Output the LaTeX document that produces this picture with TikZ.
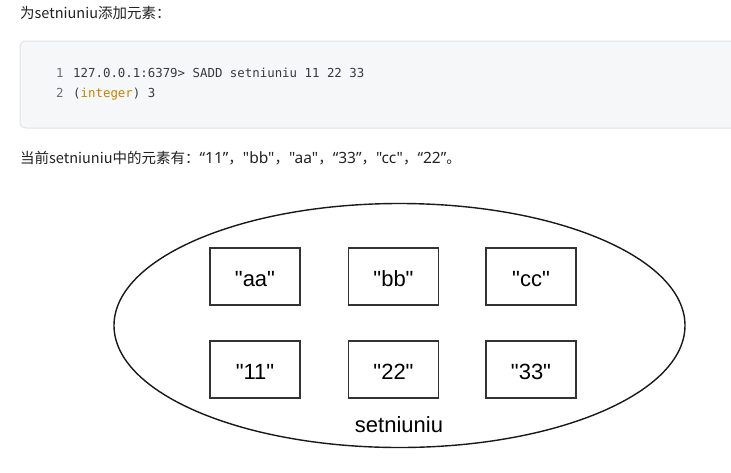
\documentclass[tikz,border=0pt]{standalone}
\usepackage{fontspec}
\setmainfont{Noto Sans CJK SC}[Ligatures=TeXOff]
\newfontfamily\latinfont{Noto Sans}[Ligatures=TeXOff]
\newfontfamily\arialfont{Liberation Sans}[Ligatures=TeXOff]
\newfontfamily\codefont{DejaVu Sans Mono}
\definecolor{codebg}{HTML}{F6F7F9}
\definecolor{codeline}{HTML}{E1E3E6}
\definecolor{codetext}{HTML}{383A42}
\definecolor{codenum}{HTML}{6A6F78}
\definecolor{codekw}{HTML}{C18401}
\definecolor{bodytext}{HTML}{222222}
\newcommand{\quoted}[1]{{\latinfont\fontsize{15.5}{16}\selectfont #1}}

\begin{document}
\begin{tikzpicture}[x=1pt, y=-1pt,
  every node/.style={inner sep=0pt},
  elem/.style={draw=black!80, line width=1.3pt, minimum width=90pt, minimum height=57pt,
    text height=20pt, text depth=0pt, font=\arialfont\fontsize{22}{22}\selectfont},
  para/.style={anchor=base west, text=bodytext, font=\fontsize{14.5}{16}\selectfont},
  codeln/.style={anchor=base west, text=codetext, font=\codefont\fontsize{12.4}{14}\selectfont}]
\useasboundingbox (0,0) rectangle (731,472);
\clip (0,0) rectangle (731,472);
\fill[white] (0,0) rectangle (731,472);

% text above the code
\node[para] (intro) at (20,18) {为setniuniu添加元素：};

% code block
\draw[fill=codebg, draw=codeline, line width=1pt, rounded corners=6pt] (20,41) rectangle (760,128);
\node[codeln, text=codenum] (n1) at (56,77) {1};
\node[codeln] (c1) at (73,77) {127.0.0.1:6379> SADD setniuniu 11 22 33};
\node[codeln, text=codenum] (n2) at (56,97) {2};
\node[codeln] (c2) at (73,97) {(\textcolor{codekw}{integer}) 3};

% text below the code
\node[para] (now) at (20,163) {当前setniuniu中的元素有：\quoted{“11”}，\quoted{"bb"}，\quoted{"aa"}，\quoted{“33”}，\quoted{"cc"}，\quoted{“22”}。};

% the set
\draw[line width=1.4pt, black!90] (399.5,325.5) ellipse (285.5 and 122);
\node[elem] (aa) at (255,276.5) {"aa"};
\node[elem] (bb) at (393.5,276.5) {"bb"};
\node[elem] (cc) at (531,276.5) {"cc"};
\node[elem] (e11) at (255,369.5) {"11"};
\node[elem] (e22) at (393.5,369.5) {"22"};
\node[elem] (e33) at (531,369.5) {"33"};
\node[anchor=base, font=\arialfont\fontsize{22}{22}\selectfont] (name) at (399,432) {setniuniu};
\end{tikzpicture}
\end{document}
